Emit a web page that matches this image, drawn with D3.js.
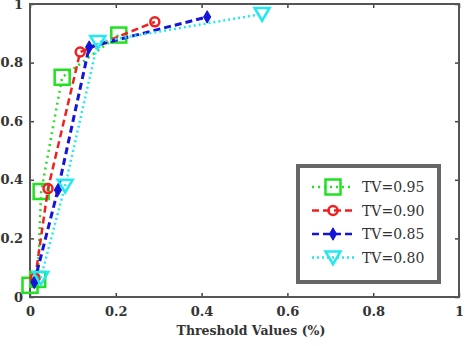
<!DOCTYPE html>
<html>
<head>
<meta charset="utf-8">
<script src="https://cdn.jsdelivr.net/npm/d3@7"></script>
<style>
  body { margin: 0; background: #fff; }
  svg { display: block; }
  .tick text { font-family: "DejaVu Serif", serif; font-weight: bold; fill: #333; }
</style>
</head>
<body>
<svg id="chart" width="474" height="346"></svg>
<script>
// series values
var labels = ["TV=0.95", "TV=0.90", "TV=0.85", "TV=0.80"];
var greenX = [0.0, 0.018, 0.026, 0.075, 0.207];
var greenY = [0.04, 0.06, 0.36, 0.75, 0.894];
var redX = [0.012, 0.042, 0.117, 0.291];
var redY = [0.065, 0.37, 0.836, 0.939];
var blueX = [0.01, 0.065, 0.138, 0.413];
var blueY = [0.05, 0.365, 0.853, 0.956];
var cyanX = [0.025, 0.082, 0.158, 0.541];
var cyanY = [0.065, 0.38, 0.87, 0.966];
var xTicks = [0, 0.2, 0.4, 0.6, 0.8, 1];
var yTicks = [0, 0.2, 0.4, 0.6, 0.8, 1];

var margin = { top: 4, right: 15, bottom: 49, left: 30 },
    w = 474 - margin.left - margin.right,
    h = 346 - margin.top - margin.bottom;

var series = [
  { name: labels[0], xs: greenX, ys: greenY, color: "#22e022", dash: "2,4", marker: "square" },
  { name: labels[1], xs: redX, ys: redY, color: "#ee2020", dash: "7,4", marker: "circle" },
  { name: labels[2], xs: blueX, ys: blueY, color: "#1515d8", dash: "7,4", marker: "diamond" },
  { name: labels[3], xs: cyanX, ys: cyanY, color: "#22e8f0", dash: "2,3", marker: "triangle" }
];

var svg = d3.select("#chart");
var g = svg.append("g").attr("transform", "translate(" + margin.left + "," + margin.top + ")");

var x = d3.scaleLinear().domain([0, 1]).range([0, w]);
var y = d3.scaleLinear().domain([0, 1]).range([h, 0]);

// axes (ticks inward, on all four sides)
var fmt = function(d) { return d === 0 || d === 1 ? d3.format("d")(d) : d3.format(".1f")(d); };
g.append("g").attr("transform", "translate(0," + h + ")")
  .call(d3.axisBottom(x).tickValues(xTicks).tickSize(-4).tickPadding(10).tickFormat(fmt))
  .call(a => a.selectAll("text").attr("font-size", 13));
g.append("g")
  .call(d3.axisLeft(y).tickValues(yTicks).tickSize(-4).tickPadding(7).tickFormat(fmt))
  .call(a => a.selectAll("text").attr("font-size", 13));
g.append("g")
  .call(d3.axisTop(x).tickValues(xTicks).tickSize(-4).tickFormat(""));
g.append("g").attr("transform", "translate(" + w + ",0)")
  .call(d3.axisRight(y).tickValues(yTicks).tickSize(-4).tickFormat(""));
g.selectAll(".domain").remove();
g.selectAll(".tick line").attr("stroke", "#444").attr("stroke-width", 1.5);
g.append("rect").attr("width", w).attr("height", h)
  .attr("fill", "none").attr("stroke", "#555").attr("stroke-width", 2);

svg.append("text")
  .attr("x", 251).attr("y", 335)
  .attr("text-anchor", "middle")
  .attr("font-family", "DejaVu Serif, serif").attr("font-weight", "bold")
  .attr("font-size", 12.5).attr("fill", "#333")
  .text("Threshold Values (%)");

function drawMarker(sel, type, color, size) {
  if (type === "square") {
    sel.append("rect").attr("x", -size / 2).attr("y", -size / 2)
      .attr("width", size).attr("height", size)
      .attr("fill", "none").attr("stroke", color).attr("stroke-width", 2.5);
  } else if (type === "circle") {
    sel.append("circle").attr("r", size / 2 - 1)
      .attr("fill", "none").attr("stroke", color).attr("stroke-width", 2.5);
  } else if (type === "diamond") {
    sel.append("path").attr("d", d3.symbol(d3.symbolDiamond, size * 5)())
      .attr("fill", color).attr("stroke", color).attr("stroke-width", 1);
  } else {
    var s = size / 2;
    sel.append("path").attr("d", "M" + (-s) + "," + (-s * 0.8) + "L" + s + "," + (-s * 0.8) + "L0," + (s * 0.9) + "Z")
      .attr("fill", "none").attr("stroke", color).attr("stroke-width", 2.5);
  }
}
var markerSize = { square: 15, circle: 11, diamond: 9, triangle: 15 };

var line = d3.line().x(d => x(d[0])).y(d => y(d[1]));
series.forEach(function(s) {
  var pts = s.xs.map((v, i) => [v, s.ys[i]]);
  g.append("path").datum(pts).attr("d", line)
    .attr("fill", "none").attr("stroke", s.color)
    .attr("stroke-width", s.marker === "diamond" ? 3 : 2.5)
    .attr("stroke-dasharray", s.dash);
  pts.forEach(function(p) {
    var m = g.append("g").attr("transform", "translate(" + x(p[0]) + "," + y(p[1]) + ")");
    drawMarker(m, s.marker, s.color, markerSize[s.marker]);
  });
});

// legend
var lg = svg.append("g").attr("transform", "translate(298,166)");
lg.append("rect").attr("width", 141).attr("height", 116)
  .attr("fill", "#fff").attr("stroke", "#666").attr("stroke-width", 4);
series.forEach(function(s, i) {
  var yy = 21 + i * 23.5;
  lg.append("line").attr("x1", 14).attr("x2", 56).attr("y1", yy).attr("y2", yy)
    .attr("stroke", s.color).attr("stroke-width", 2.5).attr("stroke-dasharray", s.dash);
  var m = lg.append("g").attr("transform", "translate(35," + yy + ")");
  drawMarker(m, s.marker, s.color, markerSize[s.marker]);
  lg.append("text").attr("x", 64).attr("y", yy + 5)
    .attr("font-family", "DejaVu Serif, serif").attr("font-size", 14).attr("fill", "#333")
    .text(s.name);
});
</script>
</body>
</html>
